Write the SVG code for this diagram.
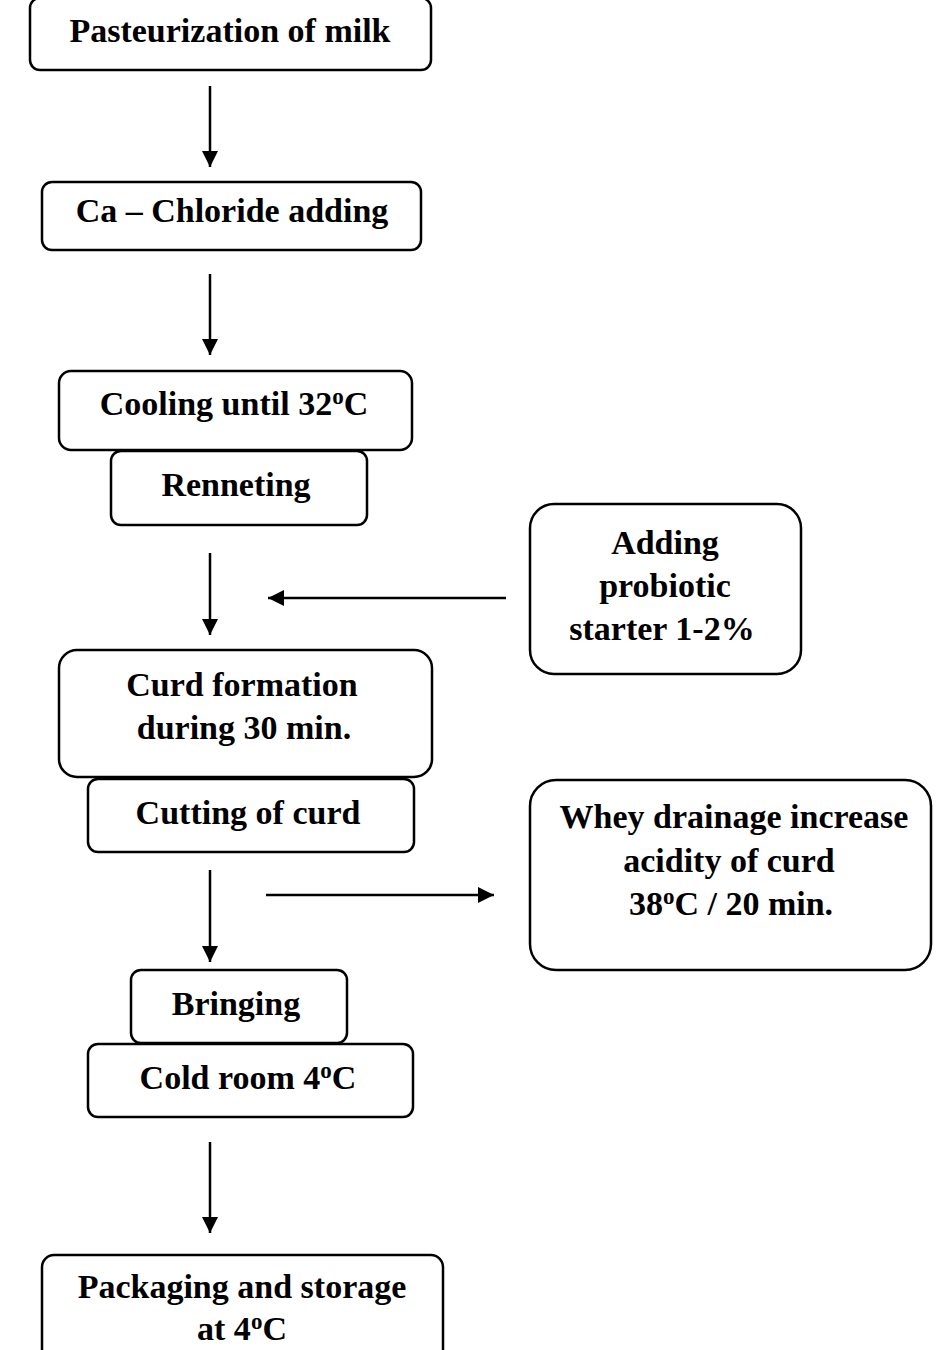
<svg xmlns="http://www.w3.org/2000/svg" width="940" height="1350" viewBox="0 0 940 1350">
<style>
rect{fill:#fff;stroke:#000;stroke-width:2.5}
text{font-family:"Liberation Serif",serif;font-weight:bold;font-size:34px;text-anchor:middle;fill:#000}
.s{font-size:23px}
line{stroke:#000;stroke-width:2.5}
</style>
<defs>
<marker id="b" viewBox="0 0 16 16" markerWidth="16" markerHeight="16" refX="16" refY="8" orient="auto" markerUnits="userSpaceOnUse"><path d="M0,0 L16,8 L0,16 Z" fill="#000"/></marker></defs>
<g id="connectors">
<line x1="210" y1="86" x2="210" y2="167" marker-end="url(#b)"/>
<line x1="210" y1="274" x2="210" y2="355" marker-end="url(#b)"/>
<line x1="210" y1="553" x2="210" y2="635" marker-end="url(#b)"/>
<line x1="210" y1="870" x2="210" y2="962" marker-end="url(#b)"/>
<line x1="210" y1="1142" x2="210" y2="1233" marker-end="url(#b)"/>
<line x1="506" y1="598" x2="268" y2="598" marker-end="url(#b)"/>
<line x1="266" y1="895" x2="494" y2="895" marker-end="url(#b)"/>
</g>
<g id="n1"><rect x="30" y="-2" width="401" height="72" rx="10"/><text x="230" y="42">Pasteurization of milk</text></g>
<g id="n2"><rect x="42" y="182" width="379" height="68" rx="10"/><text x="232" y="222">Ca – Chloride adding</text></g>
<g id="n3"><rect x="59" y="371" width="353" height="79" rx="12"/><text x="234" y="415">Cooling until 32<tspan class="s" dy="-11">o</tspan><tspan dy="11">C</tspan></text></g>
<g id="n4"><rect x="111" y="451" width="256" height="74" rx="10"/><text x="236" y="496">Renneting</text></g>
<g id="n5"><rect x="530" y="504" width="271" height="170" rx="24"/><text x="665" y="554">Adding</text><text x="665" y="597">probiotic</text><text x="662" y="640">starter 1-2%</text></g>
<g id="n6"><rect x="59" y="650" width="373" height="127" rx="18"/><text x="242" y="696">Curd formation</text><text x="244" y="739">during 30 min.</text></g>
<g id="n7"><rect x="88" y="779" width="326" height="73" rx="10"/><text x="248" y="824">Cutting of curd</text></g>
<g id="n8"><rect x="530" y="780" width="401" height="190" rx="26"/><text x="734" y="828">Whey drainage increase</text><text x="729" y="872">acidity of curd</text><text x="731" y="915">38<tspan class="s" dy="-11">o</tspan><tspan dy="11">C / 20 min.</tspan></text></g>
<g id="n9"><rect x="131" y="970" width="216" height="73" rx="10"/><text x="236" y="1015">Bringing</text></g>
<g id="n10"><rect x="88" y="1044" width="325" height="73" rx="10"/><text x="248" y="1089">Cold room 4<tspan class="s" dy="-11">o</tspan><tspan dy="11">C</tspan></text></g>
<g id="n11"><rect x="42" y="1255" width="401" height="110" rx="12"/><text x="242" y="1298">Packaging and storage</text><text x="242" y="1340">at 4<tspan class="s" dy="-11">o</tspan><tspan dy="11">C</tspan></text></g>
</svg>
